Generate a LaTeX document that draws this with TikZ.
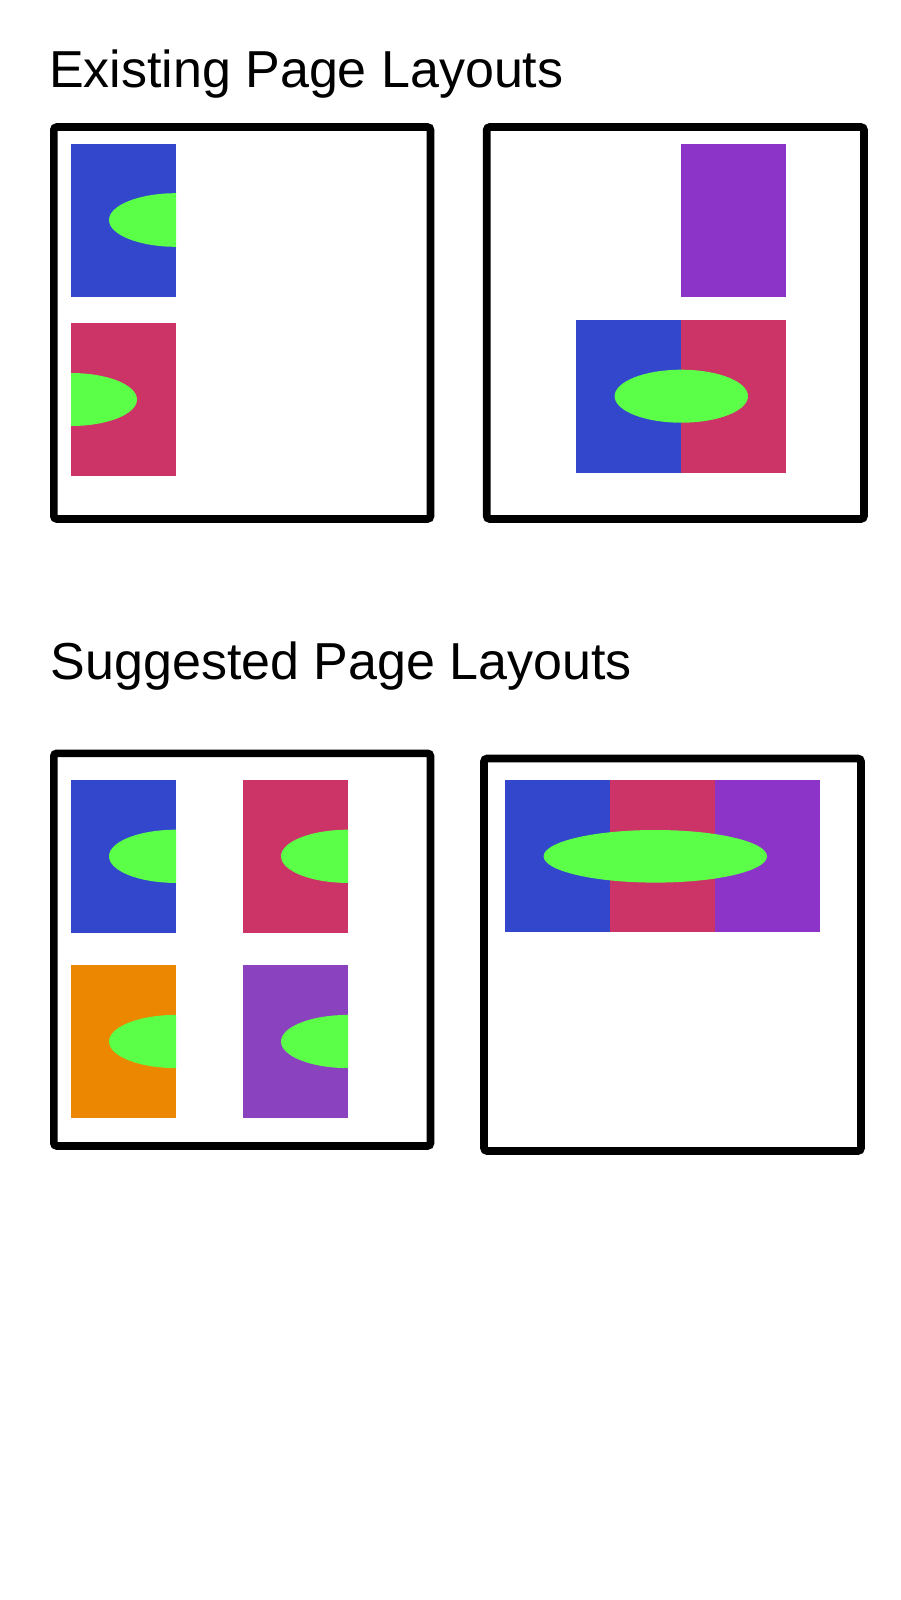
\documentclass[tikz,border=0pt]{standalone}
\usepackage{fontspec}
\setmainfont{Liberation Sans}
\definecolor{cblue}{RGB}{51,71,204}
\definecolor{cred}{RGB}{204,51,102}
\definecolor{cpurple}{RGB}{140,51,200}
\definecolor{cpurpleb}{RGB}{138,66,190}
\definecolor{corange}{RGB}{235,135,0}
\definecolor{cgreen}{RGB}{92,255,72}
\tikzset{
  pagebox/.style={draw=black, line width=3.8pt, rounded corners=1.5pt, fill=white},
  heading/.style={anchor=base west, inner sep=0pt, font=\fontsize{26pt}{30pt}\selectfont},
  oval/.style={fill=cgreen},
}
% rectangle (x1,y1)-(x2,y2) of colour #5 with a green oval centred at (#6,#7), radii #8,#9, clipped to it
\newcommand\layoutcard[9]{%
  \fill[#5] (#1,#2) rectangle (#3,#4);
  \begin{scope}
    \clip (#1,#2) rectangle (#3,#4);
    \fill[oval] (#6,#7) ellipse [x radius=#8, y radius=#9];
  \end{scope}}
\begin{document}
\begin{tikzpicture}[x=0.5pt,y=-0.5pt]
\useasboundingbox (0,0) rectangle (900,1600);
\fill[white] (0,0) rectangle (900,1600);

% headings
\node[heading] (h1) at (48.6,88) {Existing Page Layouts};
\node[heading] (h2) at (50.3,679.3) {Suggested Page Layouts};

% page boxes
\draw[pagebox] (53.8,127) rectangle (430.5,519);
\draw[pagebox] (486.7,127) rectangle (864,519);
\draw[pagebox] (53.8,753.3) rectangle (430.5,1146);
\draw[pagebox] (484,758.5) rectangle (861,1151);

% existing layout 1
\layoutcard{71}{144}{176}{297}{cblue}{176}{220}{67}{26.8}
\layoutcard{71}{323}{176}{476}{cred}{71}{399.5}{66}{26.5}

% existing layout 2
\fill[cpurple] (681.3,144) rectangle (786.3,297);
\fill[cblue] (576.3,320) rectangle (681.3,473);
\fill[cred] (681.3,320) rectangle (786.3,473);
\fill[oval] (681.3,396.2) ellipse [x radius=66.7, y radius=26.5];

% suggested layout 1
\layoutcard{71}{780}{176}{933}{cblue}{176}{856.3}{67}{26.6}
\layoutcard{243}{780}{348}{933}{cred}{348}{856.3}{67}{26.6}
\layoutcard{71}{965}{176}{1118}{corange}{176}{1041.5}{67}{26.6}
\layoutcard{243}{965}{348}{1118}{cpurpleb}{348}{1041.5}{67}{26.6}

% suggested layout 2
\fill[cblue] (505.3,780) rectangle (610.3,932.3);
\fill[cred] (610.3,780) rectangle (715.3,932.3);
\fill[cpurple] (715.3,780) rectangle (820.3,932.3);
\fill[oval] (655.3,856.3) ellipse [x radius=111.7, y radius=26.3];
\end{tikzpicture}
\end{document}
